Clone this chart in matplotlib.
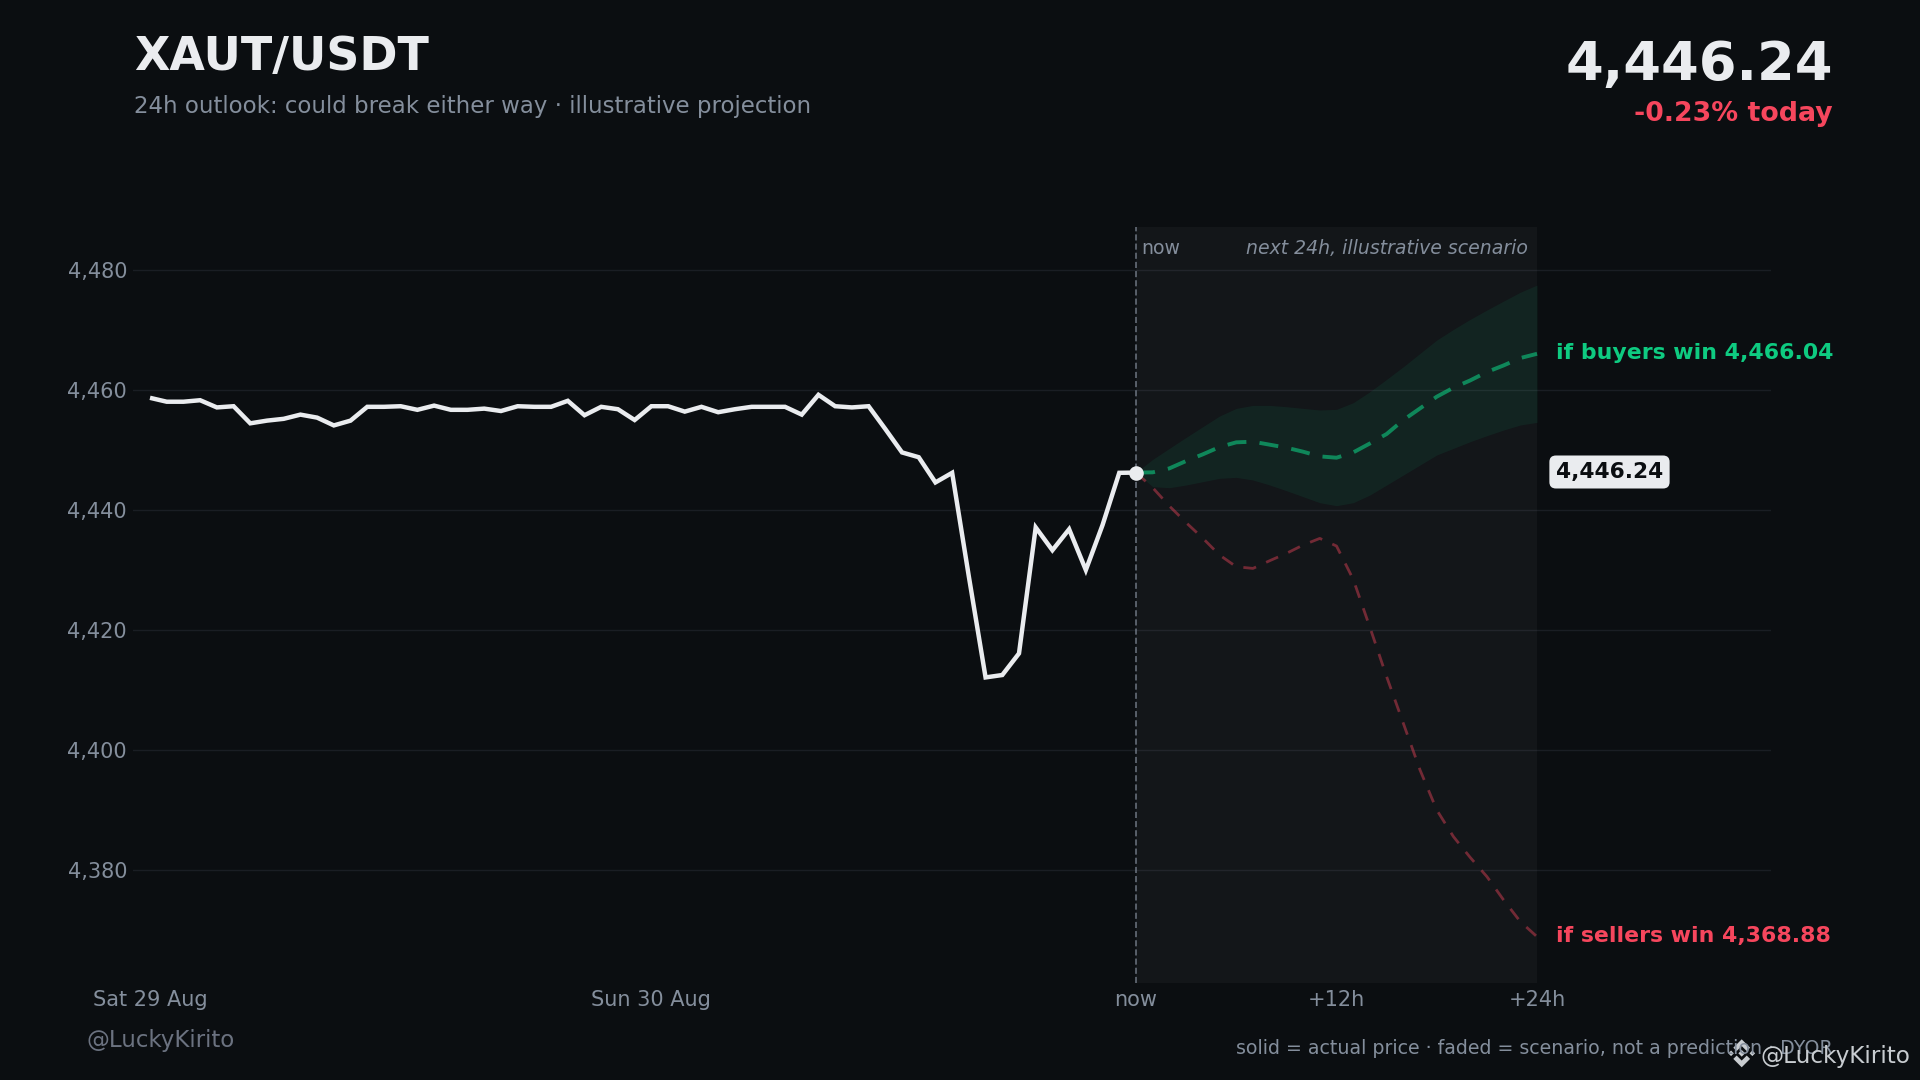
import matplotlib
matplotlib.use('Agg')
import matplotlib.pyplot as plt
from matplotlib.patches import Polygon

# hourly closes
price = [4458.7, 4458.05, 4458.05, 4458.3, 4457.1, 4457.3, 4454.45, 4454.9, 4455.2, 4455.9,
         4455.4, 4454.1, 4454.9, 4457.2, 4457.2, 4457.3, 4456.7, 4457.4, 4456.7, 4456.7,
         4456.9, 4456.5, 4457.3, 4457.2, 4457.2, 4458.2, 4455.8, 4457.2, 4456.8, 4455.0,
         4457.3, 4457.3, 4456.4, 4457.2, 4456.3, 4456.8, 4457.2, 4457.2, 4457.2, 4455.9,
         4459.2, 4457.3, 4457.1, 4457.3, 4453.5, 4449.6, 4448.8, 4444.6, 4446.2, 4428.9,
         4412.1, 4412.5, 4416.1, 4437.1, 4433.3, 4436.8, 4430.0, 4437.5, 4446.2, 4446.24]
buyers = [4446.24, 4446.28, 4446.94, 4448.17, 4449.28, 4450.5, 4451.28, 4451.39, 4450.89, 4450.39,
          4449.72, 4448.94, 4448.72, 4449.6, 4451.1, 4452.67, 4455.0, 4456.94, 4458.89, 4460.39,
          4461.6, 4463.0, 4464.1, 4465.33, 4466.04]
band_high = [4446.24, 4448.44, 4450.28, 4452.11, 4453.89, 4455.67, 4456.94, 4457.44, 4457.44, 4457.22,
             4456.94, 4456.67, 4456.78, 4457.89, 4459.72, 4461.78, 4463.89, 4466.11, 4468.33, 4470.11,
             4471.78, 4473.33, 4474.83, 4476.3, 4477.5]
band_low = [4446.24, 4443.89, 4443.72, 4444.17, 4444.72, 4445.28, 4445.44, 4445.0, 4444.17, 4443.22,
            4442.22, 4441.22, 4440.72, 4441.22, 4442.5, 4444.17, 4445.83, 4447.5, 4449.17, 4450.28,
            4451.39, 4452.39, 4453.33, 4454.17, 4454.61]
sellers = [4446.24, 4443.72, 4440.66, 4437.9, 4435.3, 4432.5, 4430.55, 4430.27, 4431.55, 4432.77,
           4434.16, 4435.27, 4434.0, 4428.44, 4420.44, 4412.22, 4404.44, 4396.66, 4390.0, 4385.55,
           4382.1, 4378.9, 4375.0, 4371.4, 4368.88]
y_ticks = [4380, 4400, 4420, 4440, 4460, 4480]
x_ticks = [0, 30, 59, 71, 83]
x_labels = ['Sat 29 Aug', 'Sun 30 Aug', 'now', '+12h', '+24h']

BG = '#0b0e11'
WHITE = '#eaecef'
GRAY = '#848e9c'
GREEN = '#0ecb81'
RED = '#f6465d'
W, H = 1920, 1080


def px(x, y):
    # figure fraction from pixel position, y measured from the top
    return x / W, 1 - y / H


def draw_logo(fig, cx, cy, r, color):
    # the little exchange logo in the corner, shapes in units of its radius
    top = [(0, 1), (.6, .4), (.36, .16), (0, .52), (-.36, .16), (-.6, .4)]
    bottom = [(x, -y) for x, y in top]
    shapes = [top, bottom,
              [(0, .24), (.24, 0), (0, -.24), (-.24, 0)],
              [(-.96, 0), (-.76, .2), (-.56, 0), (-.76, -.2)],
              [(.96, 0), (.76, .2), (.56, 0), (.76, -.2)]]
    for shape in shapes:
        pts = [px(cx + x * r, cy - y * r) for x, y in shape]
        fig.add_artist(Polygon(pts, closed=True, fc=color, ec='none', transform=fig.transFigure))


fig = plt.figure(figsize=(W / 100, H / 100), dpi=100, facecolor=BG)
ax = fig.add_axes([133.3 / W, 1 - 983 / H, (1771 - 133.3) / W, (983 - 227) / H], facecolor=BG)
ax.set_xlim(-1, 97)
ax.set_ylim(4361.17, 4487.17)
for s in ax.spines.values():
    s.set_visible(False)

ax.set_yticks(y_ticks)
ax.set_yticklabels([f'{v:,}' for v in y_ticks])
ax.set_xticks(x_ticks)
ax.set_xticklabels(x_labels)
ax.tick_params(length=0, labelsize=15, labelcolor=GRAY)
ax.tick_params(axis='y', pad=4.5)
ax.tick_params(axis='x', pad=5)
ax.grid(axis='y', color='#1a1e24', lw=1)
ax.set_axisbelow(True)

hours = list(range(59, 84))
ax.axvspan(59, 83, color='white', alpha=0.035, lw=0)
ax.fill_between(hours, band_low, band_high, color=GREEN, alpha=0.08, lw=0)
ax.plot(hours, sellers, color=RED, alpha=0.42, lw=2.0, dashes=(4.7, 4))
ax.plot(hours, buyers, color=GREEN, alpha=0.6, lw=2.8, dashes=(4.9, 3.4))
ax.axvline(59, color=GRAY, lw=1.1, ls=(0, (4, 2)), alpha=0.8)
ax.plot(range(60), price, color=WHITE, lw=3.2, solid_joinstyle='miter', solid_capstyle='butt')
ax.plot(59, price[-1], 'o', color=WHITE, ms=10.5, mew=0)

fig.text(*px(134, 57), 'XAUT/USDT', color=WHITE, fontsize=33, fontweight='bold', va='center')
fig.text(*px(134, 106), '24h outlook: could break either way · illustrative projection',
         color=GRAY, fontsize=16.5, va='center')
fig.text(*px(1833, 65), '4,446.24', color=WHITE, fontsize=39.2, fontweight='bold', va='center', ha='right')
fig.text(*px(1833, 114), '-0.23% today', color=RED, fontsize=19.3, fontweight='bold', va='center', ha='right')

fig.text(*px(1141, 248), 'now', color=GRAY, fontsize=13.6, va='center')
fig.text(*px(1528, 248), 'next 24h, illustrative scenario', color=GRAY, fontsize=13.6,
         style='italic', va='center', ha='right')

fig.text(*px(1556, 353), 'if buyers win 4,466.04', color=GREEN, fontsize=15.8, fontweight='bold', va='center')
fig.text(*px(1556, 936), 'if sellers win 4,368.88', color=RED, fontsize=15.8, fontweight='bold', va='center')
fig.text(*px(1609.5, 472), '4,446.24', color=BG, fontsize=15.6, fontweight='bold', va='center', ha='center',
         bbox=dict(boxstyle='round,pad=0.3', fc=WHITE, ec='none'))

fig.text(*px(1833, 1048), 'solid = actual price · faded = scenario, not a prediction · DYOR',
         color=GRAY, fontsize=13.7, va='center', ha='right')
fig.text(*px(86, 1040), '@LuckyKirito', color='#6b7280', fontsize=16.5, va='center')
fig.text(*px(1761, 1056), '@LuckyKirito', color='#c8ccd0', fontsize=16.7, va='center')
draw_logo(fig, 1741.7, 1053.3, 14, '#c8ccd0')

fig.savefig('out.png', dpi=100, facecolor=BG)
